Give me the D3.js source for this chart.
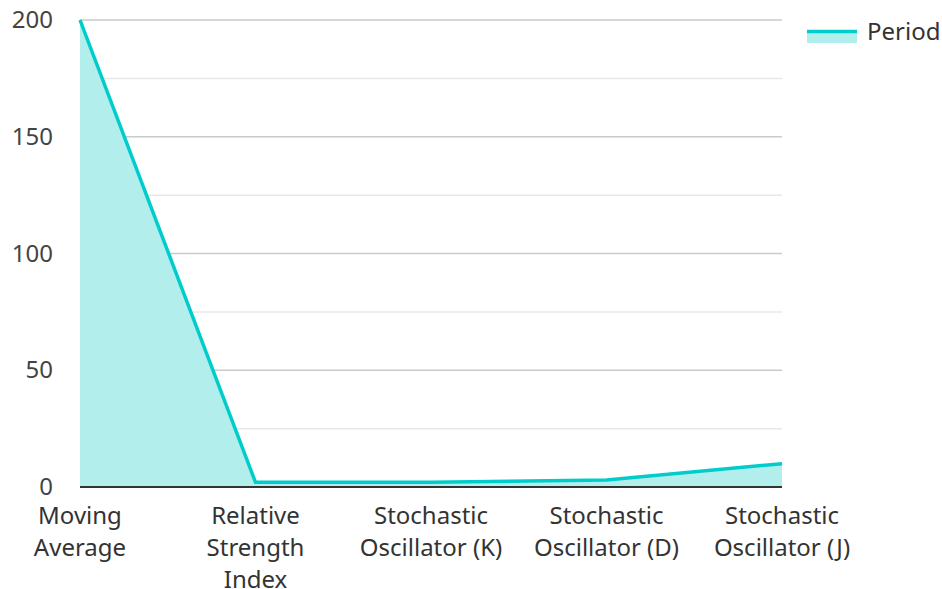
<!DOCTYPE html>
<html>
<head>
<meta charset="utf-8">
<script src="https://cdn.jsdelivr.net/npm/d3@7"></script>
<style>
  html, body { margin: 0; padding: 0; background: #fff; }
  svg { display: block; font-family: "Noto Sans", "Open Sans", sans-serif; }
</style>
</head>
<body>
<svg id="chart" width="942" height="589"></svg>
<script>
// Indicator names and their period settings
const categories = [
  "Moving Average",
  "Relative Strength Index",
  "Stochastic Oscillator (K)",
  "Stochastic Oscillator (D)",
  "Stochastic Oscillator (J)"
];
const categoryLines = [
  ["Moving", "Average"],
  ["Relative", "Strength", "Index"],
  ["Stochastic", "Oscillator (K)"],
  ["Stochastic", "Oscillator (D)"],
  ["Stochastic", "Oscillator (J)"]
];
const periodValues = [200, 2, 2, 3, 10];
const seriesName = "Period";
const yMajorTicks = [0, 50, 100, 150, 200];
const yMinorTicks = [25, 75, 125, 175];

const lineColor = "#00cdcb";
const fillColor = "#b2eeec";
const fontSize = 24;

const svg = d3.select("#chart");
const margin = { left: 80, right: 160, top: 20, bottom: 102 };
const width = 942, height = 589;

const x = d3.scalePoint()
  .domain(categories)
  .range([margin.left, width - margin.right]);

const y = d3.scaleLinear()
  .domain([0, 200])
  .range([height - margin.bottom, margin.top]);

const data = categories.map((c, i) => ({ cat: c, value: periodValues[i] }));

// Gridlines: light minor lines, darker major lines
svg.append("g")
  .selectAll("line")
  .data(yMinorTicks)
  .join("line")
  .attr("x1", margin.left).attr("x2", width - margin.right)
  .attr("y1", d => y(d)).attr("y2", d => y(d))
  .attr("stroke", "#e8e8e8").attr("stroke-width", 1.5);

svg.append("g")
  .selectAll("line")
  .data(yMajorTicks.filter(d => d !== 0))
  .join("line")
  .attr("x1", margin.left).attr("x2", width - margin.right)
  .attr("y1", d => y(d)).attr("y2", d => y(d))
  .attr("stroke", "#cacaca").attr("stroke-width", 1.5);

// Area under the line
const area = d3.area()
  .x(d => x(d.cat))
  .y0(y(0))
  .y1(d => y(d.value));

svg.append("path")
  .datum(data)
  .attr("d", area)
  .attr("fill", fillColor);

// Baseline axis
svg.append("line")
  .attr("x1", margin.left).attr("x2", width - margin.right)
  .attr("y1", y(0)).attr("y2", y(0))
  .attr("stroke", "#333").attr("stroke-width", 2);

// Series line
const line = d3.line()
  .x(d => x(d.cat))
  .y(d => y(d.value));

svg.append("path")
  .datum(data)
  .attr("d", line)
  .attr("fill", "none")
  .attr("stroke", lineColor)
  .attr("stroke-width", 3.5)
  .attr("stroke-linejoin", "miter");

// Y axis labels
const yAxis = d3.axisLeft(y)
  .tickValues(yMajorTicks)
  .tickSize(0)
  .tickPadding(27);

const yg = svg.append("g")
  .attr("transform", `translate(${margin.left},0)`)
  .call(yAxis);
yg.select(".domain").remove();
yg.selectAll("text")
  .attr("font-size", fontSize)
  .attr("fill", "#444")
  .attr("font-family", "'Noto Sans', 'Open Sans', sans-serif");

// X axis labels (wrapped onto several lines)
const xg = svg.append("g");
categories.forEach((c, i) => {
  const t = xg.append("text")
    .attr("x", x(c))
    .attr("y", 524)
    .attr("text-anchor", "middle")
    .attr("font-size", fontSize)
    .attr("fill", "#333");
  categoryLines[i].forEach((ln, j) => {
    t.append("tspan")
      .attr("x", x(c))
      .attr("dy", j === 0 ? 0 : 32)
      .text(ln);
  });
});

// Legend
const lg = svg.append("g").attr("transform", "translate(807,0)");
lg.append("rect")
  .attr("x", 0).attr("y", 31)
  .attr("width", 50).attr("height", 12)
  .attr("fill", fillColor);
lg.append("line")
  .attr("x1", 0).attr("x2", 50)
  .attr("y1", 31.5).attr("y2", 31.5)
  .attr("stroke", lineColor).attr("stroke-width", 3.5);
lg.append("text")
  .attr("x", 60).attr("y", 40)
  .attr("font-size", fontSize)
  .attr("fill", "#333")
  .text(seriesName);
</script>
</body>
</html>
